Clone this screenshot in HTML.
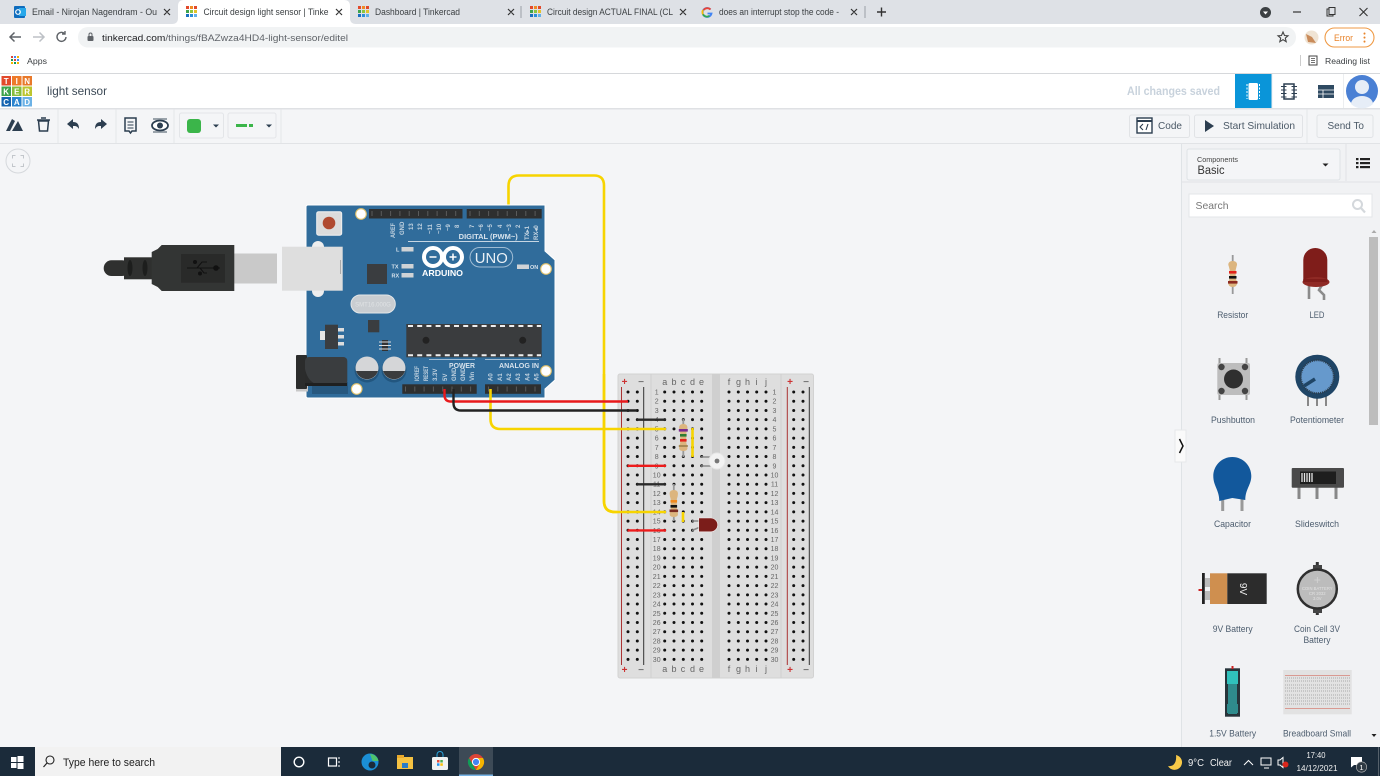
<!DOCTYPE html>
<html><head><meta charset="utf-8"><title>light sensor</title>
<style>
html,body{margin:0;padding:0;background:#f4f5f7;width:1380px;height:776px;overflow:hidden}
svg{display:block;filter:blur(.35px)}
text{font-family:"Liberation Sans",sans-serif}
.t{font-size:9px;fill:#3c4043}
.pin{font-size:6px;fill:#c3d3e0;font-weight:bold}
.n{font-size:7px;fill:#666;text-anchor:middle}
.c{font-size:9px;fill:#666;text-anchor:middle}
.lab{font-size:9.5px;fill:#4d5d6e;text-anchor:middle}
.x{stroke:#333;stroke-width:1.2;fill:none}
</style></head><body>
<svg width="1380" height="776" viewBox="0 0 1380 776" xmlns="http://www.w3.org/2000/svg">
<rect width="1380" height="776" fill="#f4f5f7"/>

<!-- Browser chrome -->
<rect width="1380" height="24" fill="#dee1e6"/>
<rect y="24" width="1380" height="49" fill="#fff"/>
<path d="M172 24q6 0 6-6V6q0-6 6-6h160q6 0 6 6v12q0 6 6 6z" fill="#fff"/>
<rect x="14" y="6" width="11" height="12" rx="1" fill="#0f6cbd"/><rect x="19" y="8" width="7" height="8" fill="#28a8ea"/><circle cx="18" cy="12" r="2.3" fill="none" stroke="#fff" stroke-width="1.2"/>
<g id="fav">
<rect x="186" y="6" width="3" height="3" fill="#e2492b"/><rect x="190" y="6" width="3" height="3" fill="#f08a24"/><rect x="194" y="6" width="3" height="3" fill="#e2492b"/>
<rect x="186" y="10" width="3" height="3" fill="#3fa34d"/><rect x="190" y="10" width="3" height="3" fill="#8cc63f"/><rect x="194" y="10" width="3" height="3" fill="#e3c22a"/>
<rect x="186" y="14" width="3" height="3" fill="#1b6fc2"/><rect x="190" y="14" width="3" height="3" fill="#2b8ed8"/><rect x="194" y="14" width="3" height="3" fill="#62b0e8"/>
</g>
<use href="#fav" x="172"/><use href="#fav" x="344"/>
<path d="M710.500 9.500a4.500 4.500 0 1 0 1 4h-4" fill="none" stroke="#4285f4" stroke-width="1.800"/><path d="M710.500 9.500a4.500 4.500 0 0 0-6.800.5" stroke="#ea4335" stroke-width="1.800" fill="none"/><path d="M703 10a4.500 4.500 0 0 0 0 4.300" stroke="#fbbc05" stroke-width="1.800" fill="none"/><path d="M703 14.300a4.500 4.500 0 0 0 6.500 1.500" stroke="#34a853" stroke-width="1.800" fill="none"/>
<text class="t" x="32" y="15" textLength="125" lengthAdjust="spacingAndGlyphs">Email - Nirojan Nagendram - Ou</text>
<text class="t" x="203.500" y="15" textLength="125" lengthAdjust="spacingAndGlyphs">Circuit design light sensor | Tinke</text>
<text class="t" x="375" y="15" textLength="85" lengthAdjust="spacingAndGlyphs">Dashboard | Tinkercad</text>
<text class="t" x="547" y="15" textLength="126" lengthAdjust="spacingAndGlyphs">Circuit design ACTUAL FINAL (CL</text>
<text class="t" x="719" y="15" textLength="120" lengthAdjust="spacingAndGlyphs">does an interrupt stop the code -</text>
<path class="x" d="M164 9l6 6m0-6l-6 6M336 9l6 6m0-6l-6 6M508 9l6 6m0-6l-6 6M680 9l6 6m0-6l-6 6M851 9l6 6m0-6l-6 6"/>
<path d="M521 6v12M865 6v12" stroke="#9aa0a6"/>
<path d="M877 12h9M881.500 7.500v9" stroke="#333" stroke-width="1.400"/>
<circle cx="1265.500" cy="12.500" r="5.500" fill="#3c4043"/><path d="M1263 11.500h5l-2.500 3z" fill="#fff"/>
<path d="M1293 12h8" stroke="#333" stroke-width="1.200"/><rect x="1327" y="9" width="6" height="7" fill="none" stroke="#333"/><rect x="1329" y="7.500" width="6" height="7" fill="#dee1e6" stroke="#333"/>
<path d="M1359.500 8l8 8m0-8l-8 8" stroke="#333" stroke-width="1.100"/>

<path d="M21 37H10M14.500 32.500L10 37l4.500 4.500" stroke="#5f6368" stroke-width="1.500" fill="none"/>
<path d="M33 37h11M39.500 32.500L44 37l-4.500 4.500" stroke="#bdc1c6" stroke-width="1.500" fill="none"/>
<path d="M66 37a4.500 4.500 0 1 1-1.500-3.500M65 31v3h-3" stroke="#5f6368" stroke-width="1.400" fill="none"/>
<rect x="78" y="27" width="1218" height="20.500" rx="10" fill="#f1f3f4"/>
<rect x="87.500" y="36" width="6" height="5" rx="1" fill="#5f6368"/><path d="M89 36v-1.500a1.500 1.500 0 0 1 3 0V36" fill="none" stroke="#5f6368"/>
<text x="102" y="41" font-size="9.500" fill="#5f6368" textLength="246" lengthAdjust="spacingAndGlyphs"><tspan fill="#202124">tinkercad.com</tspan>/things/fBAZwza4HD4-light-sensor/editel</text>
<path d="M1283 32l1.500 3.500 3.500.3-2.700 2.300.9 3.600-3.200-2-3.200 2 .9-3.600-2.700-2.300 3.500-.3z" fill="none" stroke="#444" stroke-width="1.100"/>
<circle cx="1311.500" cy="37.500" r="7" fill="#f0e4d4"/><path d="M1306 34l6 3 4 6-8-1z" fill="#c98b5a"/>
<rect x="1325" y="28" width="49" height="19" rx="9.500" fill="#fff" stroke="#ef9a45" stroke-width="1.100"/>
<text x="1334" y="41" font-size="9" fill="#e8832a" textLength="19" lengthAdjust="spacingAndGlyphs">Error</text>
<path d="M1364.500 33.500v.1M1364.500 37.500v.1M1364.500 41.500v.1" stroke="#e8832a" stroke-width="2" stroke-linecap="round"/>
<g fill="#db4437"><rect x="11" y="56" width="2" height="2"/><rect x="14" y="56" width="2" height="2" fill="#4285f4"/><rect x="17" y="56" width="2" height="2" fill="#f4b400"/><rect x="11" y="59" width="2" height="2" fill="#0f9d58"/><rect x="14" y="59" width="2" height="2" fill="#db4437"/><rect x="17" y="59" width="2" height="2" fill="#4285f4"/><rect x="11" y="62" width="2" height="2" fill="#f4b400"/><rect x="14" y="62" width="2" height="2" fill="#0f9d58"/><rect x="17" y="62" width="2" height="2" fill="#f4b400"/></g>
<text x="27" y="64" font-size="8.500" fill="#3c4043" textLength="20" lengthAdjust="spacingAndGlyphs">Apps</text>
<path d="M1300.500 55v11" stroke="#ccc"/>
<rect x="1309" y="56" width="8" height="9" fill="none" stroke="#444" stroke-width="1"/><path d="M1311 58.500h4M1311 60.500h4M1311 62.500h4" stroke="#444" stroke-width=".7"/>
<text x="1325" y="64" font-size="8.500" fill="#3c4043" textLength="45" lengthAdjust="spacingAndGlyphs">Reading list</text>
<rect y="73" width="1380" height="1" fill="#d6d8db"/>

<!-- Tinkercad header -->
<rect y="74" width="1380" height="34" fill="#fff"/>
<rect y="108" width="1380" height="1.500" fill="#dfe1e4"/>
<g>
<rect x="1.500" y="76" width="9.500" height="9.500" fill="#e2492b"/><rect x="12" y="76" width="9.500" height="9.500" fill="#ee7a2a"/><rect x="22.500" y="76" width="9.500" height="9.500" fill="#e8792a"/>
<rect x="1.500" y="86.500" width="9.500" height="9.500" fill="#3fa34d"/><rect x="12" y="86.500" width="9.500" height="9.500" fill="#86bd3c"/><rect x="22.500" y="86.500" width="9.500" height="9.500" fill="#bcc52f"/>
<rect x="1.500" y="97" width="9.500" height="9.500" fill="#1664b0"/><rect x="12" y="97" width="9.500" height="9.500" fill="#2b84cf"/><rect x="22.500" y="97" width="9.500" height="9.500" fill="#6cb2e6"/>
<g font-size="8" font-weight="bold" fill="#fff" text-anchor="middle"><text x="6.200" y="84">T</text><text x="16.800" y="84">I</text><text x="27.200" y="84">N</text><text x="6.200" y="94.500">K</text><text x="16.800" y="94.500">E</text><text x="27.200" y="94.500">R</text><text x="6.200" y="105">C</text><text x="16.800" y="105">A</text><text x="27.200" y="105">D</text></g>
</g>
<text x="47" y="95" font-size="12" fill="#3d4a57" textLength="60" lengthAdjust="spacingAndGlyphs">light sensor</text>
<text x="1127" y="95" font-size="12" font-weight="bold" fill="#c8d2dc" textLength="93" lengthAdjust="spacingAndGlyphs">All changes saved</text>
<rect x="1235" y="74" width="36.500" height="34" fill="#0a95d9"/>
<rect x="1248.500" y="83" width="9.500" height="17" rx="1.500" fill="#fff"/><path d="M1247 84v15M1259.500 84v15" stroke="#fff" stroke-width="1" stroke-dasharray="2 1.500"/>
<rect x="1284" y="84" width="10" height="15" fill="#fff" stroke="#2c3e50" stroke-width="1.500"/><path d="M1281 86.500h16M1281 90h16M1281 93.500h16M1281 97h16" stroke="#2c3e50" stroke-width="1"/><rect x="1286.500" y="85" width="5" height="13" fill="#fff"/>
<rect x="1318" y="85" width="16" height="13" fill="#2f4a62"/><path d="M1318 90h16M1318 94h16M1323 90v8" stroke="#fff" stroke-width=".8"/>
<path d="M1343.500 74v34M1272 74v34" stroke="#eceef0"/>
<circle cx="1362" cy="91" r="16" fill="#4a80d4"/>
<circle cx="1362" cy="87" r="7" fill="#e6edf7"/><path d="M1351 104a11 8 0 0 1 22 0a16 16 0 0 1-22 0z" fill="#e6edf7"/>

<!-- Toolbar -->
<rect y="143" width="1181" height="1" fill="#e1e3e6"/><rect x="1181" y="143" width="199" height="1" fill="#e1e3e6"/>
<path d="M58 109v34M116 109v34M174 109v34M281 109v34M1307 109v34" stroke="#e4e6e9"/>
<path d="M6 131l6-12 3 2-5 10zM12 131l6-10 5 10z" fill="#2c3e50"/>
<path d="M38.500 121h10l-1 10h-8zM37 120h13M41 118h5" fill="none" stroke="#2c3e50" stroke-width="1.500"/>
<path d="M67 124l6-5v3c4 0 6 2 6 7-2-3-3-3-6-3v3z" fill="#2c3e50"/>
<path d="M107 124l-6-5v3c-4 0-6 2-6 7 2-3 3-3 6-3v3z" fill="#2c3e50"/>
<path d="M125 118h11v13h-4l-1.500 2-1.500-2h-4z" fill="none" stroke="#2c3e50" stroke-width="1.500"/><path d="M127.500 122h6M127.500 125h6M127.500 128h6" stroke="#2c3e50"/>
<path d="M153 119h14M153 132h14" stroke="#9aa3ab" stroke-width="2"/><ellipse cx="160" cy="125.500" rx="8" ry="5" fill="#fff" stroke="#2c3e50" stroke-width="1.800"/><circle cx="160" cy="125.500" r="3" fill="#2c3e50"/>
<rect x="179.500" y="113" width="44" height="25" rx="2" fill="#f4f5f7" stroke="#e3e5e8"/>
<rect x="187" y="119" width="14" height="14" rx="3" fill="#3bb54a"/><path d="M213 124.500h6l-3 3z" fill="#2c3e50"/>
<rect x="228" y="113" width="48" height="25" rx="2" fill="#f4f5f7" stroke="#e3e5e8"/>
<rect x="236" y="124" width="11" height="3" fill="#3bb54a"/><rect x="249" y="124" width="4" height="3" fill="#3bb54a"/><path d="M266 124.500h6l-3 3z" fill="#2c3e50"/>
<rect x="1129.500" y="115" width="60" height="22.500" rx="2" fill="#f4f5f7" stroke="#e1e3e6"/>
<rect x="1137" y="118" width="15" height="15" fill="#fff" stroke="#2c3e50" stroke-width="1.400"/><path d="M1137 121h15" stroke="#2c3e50" stroke-width="2"/><path d="M1143 124l-3 3 3 3M1148 124l-2 6" fill="none" stroke="#2c3e50" stroke-width="1.100"/>
<text x="1158" y="129" font-size="10.500" fill="#4a5866" textLength="24" lengthAdjust="spacingAndGlyphs">Code</text>
<rect x="1194.500" y="115" width="108" height="22.500" rx="2" fill="#f4f5f7" stroke="#e1e3e6"/>
<path d="M1205 120l9 6-9 6z" fill="#2c3e50"/>
<text x="1223" y="129" font-size="10.500" fill="#4a5866" textLength="72" lengthAdjust="spacingAndGlyphs">Start Simulation</text>
<rect x="1317" y="115" width="56" height="22.500" rx="2" fill="#f4f5f7" stroke="#e1e3e6"/>
<text x="1327.500" y="129" font-size="10.500" fill="#4a5866" textLength="36.500" lengthAdjust="spacingAndGlyphs">Send To</text>
<circle cx="18" cy="161" r="12" fill="#f4f5f7" stroke="#d5d8dc"/>
<path d="M12.500 158.500v-3h3M20.500 155.500h3v3M23.500 163.500v3h-3M15.500 166.500h-3v-3" fill="none" stroke="#c2c6cb"/>

<!-- Wires behind the board -->
<path d="M508.500 215V186q0-10.500 10.500-10.500h75q10 0 10 10V501q0 11 11 11h50" fill="none" stroke="#f7d400" stroke-width="2.600"/>

<!-- USB plug -->
<rect x="234" y="253.500" width="43" height="30" fill="#c9c9c9"/>
<rect x="103.700" y="260.300" width="26" height="15.700" rx="7.800" fill="#2f302f"/>
<rect x="124" y="257.300" width="30" height="22" fill="#2f302f"/>
<ellipse cx="130" cy="268" rx="2.500" ry="8" fill="#1d1e1d"/><ellipse cx="145" cy="268" rx="2.500" ry="8" fill="#1d1e1d"/>
<path d="M151.700 252l6-3 4-4h72.600v46h-72.600l-4-4-6-3z" fill="#333534"/>
<rect x="181" y="254" width="44" height="28.700" fill="#292a29"/>
<path d="M187 268h33M197 268l5-6h5M200 268l4 5h3" fill="none" stroke="#111" stroke-width="1.100"/><circle cx="216" cy="268" r="2.800" fill="#111"/><circle cx="195" cy="262" r="2" fill="#111"/><circle cx="200" cy="273.500" r="2" fill="#111"/>

<!-- Arduino -->
<path d="M306 207q0-2 2-2h237v46l10 9v120l-10 9v9h-237q-2 0-2-2z" fill="#306c9b" stroke="#fff" stroke-width="1"/>
<rect x="369" y="209" width="93.500" height="9.500" fill="#2e2f2f"/>
<rect x="466.700" y="209" width="75" height="9.500" fill="#2e2f2f"/>
<rect x="402.300" y="384.300" width="74.400" height="9.500" fill="#2e2f2f"/>
<rect x="485" y="384.300" width="56" height="9.500" fill="#2e2f2f"/>
<g stroke="#5a5b5b" stroke-width="5" fill="none" stroke-dasharray="1 8.300"><path d="M371.500 213.500h90M469.500 213.500h72M405 389h72M488 389h53"/></g>
<g fill="#fff" stroke="#e2c26a" stroke-width="1.100"><circle cx="361" cy="214" r="5.300"/><circle cx="546" cy="269" r="5.300"/><circle cx="356.700" cy="389" r="5.300"/><circle cx="546" cy="371" r="5.300"/></g>
<rect x="316.700" y="211.700" width="25" height="23.500" rx="2" fill="#dcdcdc" stroke="#f1f1f1"/><circle cx="329" cy="223" r="6.300" fill="#b04a30"/>
<circle cx="318" cy="247" r="6" fill="#eee"/><circle cx="318" cy="291" r="6" fill="#eee"/>
<rect x="282" y="246.700" width="60.700" height="44" fill="#dedede"/><rect x="340" y="260" width="1" height="14" fill="#aaa"/>
<g>
<text transform="translate(395,238) rotate(-90)" class="pin" textLength="15" lengthAdjust="spacingAndGlyphs">AREF</text>
<text transform="translate(404,235) rotate(-90)" class="pin">GND</text>
<text transform="translate(413,230) rotate(-90)" class="pin">13</text>
<text transform="translate(422,230) rotate(-90)" class="pin">12</text>
<text transform="translate(432,234) rotate(-90)" class="pin">~11</text>
<text transform="translate(441,234) rotate(-90)" class="pin">~10</text>
<text transform="translate(450,231) rotate(-90)" class="pin">~9</text>
<text transform="translate(459,228) rotate(-90)" class="pin">8</text>
<text transform="translate(474,228) rotate(-90)" class="pin">7</text>
<text transform="translate(483,231) rotate(-90)" class="pin">~6</text>
<text transform="translate(492,231) rotate(-90)" class="pin">~5</text>
<text transform="translate(502,228) rotate(-90)" class="pin">4</text>
<text transform="translate(511,231) rotate(-90)" class="pin">~3</text>
<text transform="translate(520,228) rotate(-90)" class="pin">2</text>
<text transform="translate(529,240) rotate(-90)" class="pin">TX▸1</text>
<text transform="translate(538,240) rotate(-90)" class="pin">RX◂0</text>
<text transform="translate(419,381) rotate(-90)" class="pin" textLength="15" lengthAdjust="spacingAndGlyphs">IOREF</text>
<text transform="translate(428,381) rotate(-90)" class="pin" textLength="15" lengthAdjust="spacingAndGlyphs">RESET</text>
<text transform="translate(437,381) rotate(-90)" class="pin">3.3V</text>
<text transform="translate(447,381) rotate(-90)" class="pin">5V</text>
<text transform="translate(456,381) rotate(-90)" class="pin">GND</text>
<text transform="translate(465,381) rotate(-90)" class="pin">GND</text>
<text transform="translate(474,381) rotate(-90)" class="pin">Vin</text>
<text transform="translate(492.500,381) rotate(-90)" class="pin">A0</text>
<text transform="translate(502,381) rotate(-90)" class="pin">A1</text>
<text transform="translate(511,381) rotate(-90)" class="pin">A2</text>
<text transform="translate(520,381) rotate(-90)" class="pin">A3</text>
<text transform="translate(529.500,381) rotate(-90)" class="pin">A4</text>
<text transform="translate(538.500,381) rotate(-90)" class="pin">A5</text>
</g>
<text x="458.700" y="239" font-size="7" font-weight="bold" fill="#d6e2ec" textLength="59" lengthAdjust="spacingAndGlyphs">DIGITAL (PWM~)</text>
<path d="M408 241.500h131" stroke="#c6d6e3"/>
<circle cx="433" cy="257" r="9" fill="none" stroke="#fff" stroke-width="4"/><circle cx="453" cy="257" r="9" fill="none" stroke="#fff" stroke-width="4"/>
<path d="M429.500 257h7M449.500 257h7M453 253.500v7" stroke="#fff" stroke-width="1.500"/>
<text x="422" y="276" font-size="8.500" font-weight="bold" fill="#fff" textLength="41" lengthAdjust="spacingAndGlyphs">ARDUINO</text>
<rect x="470" y="247.500" width="42.700" height="19.500" rx="9.700" fill="none" stroke="#9fbcd4"/>
<text x="491.300" y="263" font-size="15" fill="#e9f0f6" text-anchor="middle" textLength="33" lengthAdjust="spacingAndGlyphs">UNO</text>
<g fill="#cfd3d6"><rect x="401.500" y="247" width="12" height="4.500"/><rect x="401.500" y="264" width="12" height="4.500"/><rect x="401.500" y="273" width="12" height="4.500"/><rect x="517" y="264.500" width="12" height="4.500"/></g>
<g font-size="5.500" fill="#d6e2ec" font-weight="bold"><text x="396" y="251.500">L</text><text x="391.500" y="268.500">TX</text><text x="391.500" y="277.500">RX</text><text x="530" y="269">ON</text></g>
<rect x="367" y="264" width="20" height="20" fill="#3a3d40"/>
<rect x="351" y="295" width="44.300" height="18" rx="9" fill="#c9cdd1" stroke="#e3e6e8"/>
<text x="373" y="306.500" font-size="6" fill="#dfe2e4" text-anchor="middle">SMT16.000G</text>
<rect x="368" y="320" width="11.300" height="12.300" fill="#3a3d40"/>
<rect x="320" y="331" width="6" height="9" fill="#e6e6e6"/><rect x="325" y="324.700" width="13" height="24.300" fill="#3a3d40"/>
<g fill="#ddd"><rect x="338" y="328" width="6" height="3.500"/><rect x="338" y="335" width="6" height="3.500"/><rect x="338" y="342" width="6" height="3.500"/></g>
<rect x="382" y="340" width="6" height="11" fill="#333"/><path d="M379 342h12M379 345.500h12M379 349h12" stroke="#ddd"/>
<rect x="406.300" y="324" width="135.400" height="33.300" fill="#3a3c3e"/>
<path d="M408 326h133M408 355.300h133" stroke="#eee" stroke-width="2" stroke-dasharray="5 4.200"/>
<circle cx="426" cy="340.300" r="3.500" fill="#222"/><circle cx="522.700" cy="340.300" r="3.500" fill="#222"/>
<g><circle cx="367" cy="370" r="12.500" fill="#22567f"/><circle cx="367" cy="368" r="11.500" fill="#d5d6d8"/><path d="M356 371h22a11.500 11.500 0 0 1-22 0z" fill="#3a3c3e"/>
<circle cx="394" cy="370" r="12.500" fill="#22567f"/><circle cx="394" cy="368" r="11.500" fill="#d5d6d8"/><path d="M383 371h22a11.500 11.500 0 0 1-22 0z" fill="#3a3c3e"/></g>
<rect x="312" y="382" width="36" height="12" fill="#27587f"/>
<rect x="296" y="381" width="12" height="10.500" fill="#c8c8c8"/>
<rect x="296" y="355" width="11" height="34" rx="1" fill="#2b2c2c"/>
<rect x="305" y="357" width="42.300" height="28" rx="4" fill="#3a3d3f"/><path d="M305 369q3 14 14 16h-14z" fill="#2a2b2b"/><rect x="305" y="383" width="42" height="3" fill="#1f2020"/>
<path d="M429 359.500h46M485 359.500h54" stroke="#9fbcd4"/>
<text x="449" y="368" font-size="7" font-weight="bold" fill="#d6e2ec" textLength="26" lengthAdjust="spacingAndGlyphs">POWER</text>
<text x="499" y="368" font-size="7" font-weight="bold" fill="#d6e2ec" textLength="40" lengthAdjust="spacingAndGlyphs">ANALOG IN</text>

<!-- Breadboard -->
<rect x="618" y="374" width="195.500" height="304" rx="2" fill="#dedede" stroke="#d2d2d2"/>
<rect x="712" y="374" width="8" height="304" fill="#cfcfcf"/>
<path d="M651 374v304M781 374v304" stroke="#d0d0d0"/>
<path d="M621.500 387v278M787.300 387v278" stroke="#a33" stroke-width="1"/>
<path d="M643.700 387v278M809.300 387v278" stroke="#333" stroke-width="1"/>
<g stroke="#111" stroke-width="3" stroke-linecap="round" stroke-dasharray="0 9.220" fill="none">
<path d="M628 392V660M637.300 392V660M664.700 392V660M674 392V660M683.300 392V660M692.500 392V660M701.700 392V660M729 392V660M738.300 392V660M747.500 392V660M756.700 392V660M766 392V660M793.700 392V660M803 392V660"/>
</g>
<g>
<text class="c" x="664.700" y="385">a</text><text class="c" x="674" y="385">b</text><text class="c" x="683" y="385">c</text><text class="c" x="692.500" y="385">d</text><text class="c" x="701.500" y="385">e</text>
<text class="c" x="729" y="385">f</text><text class="c" x="738.500" y="385">g</text><text class="c" x="747.500" y="385">h</text><text class="c" x="756.500" y="385">i</text><text class="c" x="766" y="385">j</text>
<text class="c" x="664.700" y="672">a</text><text class="c" x="674" y="672">b</text><text class="c" x="683" y="672">c</text><text class="c" x="692.500" y="672">d</text><text class="c" x="701.500" y="672">e</text>
<text class="c" x="729" y="672">f</text><text class="c" x="738.500" y="672">g</text><text class="c" x="747.500" y="672">h</text><text class="c" x="756.500" y="672">i</text><text class="c" x="766" y="672">j</text>
</g>
<g font-size="10" font-weight="bold" text-anchor="middle"><text x="624.500" y="385" fill="#c33">+</text><text x="641" y="385" fill="#777">−</text><text x="790" y="385" fill="#c33">+</text><text x="806" y="385" fill="#777">−</text><text x="624.500" y="673" fill="#c33">+</text><text x="641" y="673" fill="#777">−</text><text x="790" y="673" fill="#c33">+</text><text x="806" y="673" fill="#777">−</text></g>
<g>
<text class="n" x="656.700" y="394.500">1</text><text class="n" x="656.700" y="403.700">2</text><text class="n" x="656.700" y="412.900">3</text><text class="n" x="656.700" y="422.200">4</text><text class="n" x="656.700" y="431.400">5</text><text class="n" x="656.700" y="440.600">6</text><text class="n" x="656.700" y="449.800">7</text><text class="n" x="656.700" y="459">8</text><text class="n" x="656.700" y="468.300">9</text><text class="n" x="656.700" y="477.500">10</text><text class="n" x="656.700" y="486.700">11</text><text class="n" x="656.700" y="495.900">12</text><text class="n" x="656.700" y="505.100">13</text><text class="n" x="656.700" y="514.400">14</text><text class="n" x="656.700" y="523.600">15</text><text class="n" x="656.700" y="532.800">16</text><text class="n" x="656.700" y="542">17</text><text class="n" x="656.700" y="551.200">18</text><text class="n" x="656.700" y="560.500">19</text><text class="n" x="656.700" y="569.700">20</text><text class="n" x="656.700" y="578.900">21</text><text class="n" x="656.700" y="588.100">22</text><text class="n" x="656.700" y="597.300">23</text><text class="n" x="656.700" y="606.600">24</text><text class="n" x="656.700" y="615.800">25</text><text class="n" x="656.700" y="625">26</text><text class="n" x="656.700" y="634.200">27</text><text class="n" x="656.700" y="643.400">28</text><text class="n" x="656.700" y="652.700">29</text><text class="n" x="656.700" y="661.900">30</text>
<text class="n" x="774.500" y="394.500">1</text><text class="n" x="774.500" y="403.700">2</text><text class="n" x="774.500" y="412.900">3</text><text class="n" x="774.500" y="422.200">4</text><text class="n" x="774.500" y="431.400">5</text><text class="n" x="774.500" y="440.600">6</text><text class="n" x="774.500" y="449.800">7</text><text class="n" x="774.500" y="459">8</text><text class="n" x="774.500" y="468.300">9</text><text class="n" x="774.500" y="477.500">10</text><text class="n" x="774.500" y="486.700">11</text><text class="n" x="774.500" y="495.900">12</text><text class="n" x="774.500" y="505.100">13</text><text class="n" x="774.500" y="514.400">14</text><text class="n" x="774.500" y="523.600">15</text><text class="n" x="774.500" y="532.800">16</text><text class="n" x="774.500" y="542">17</text><text class="n" x="774.500" y="551.200">18</text><text class="n" x="774.500" y="560.500">19</text><text class="n" x="774.500" y="569.700">20</text><text class="n" x="774.500" y="578.900">21</text><text class="n" x="774.500" y="588.100">22</text><text class="n" x="774.500" y="597.300">23</text><text class="n" x="774.500" y="606.600">24</text><text class="n" x="774.500" y="615.800">25</text><text class="n" x="774.500" y="625">26</text><text class="n" x="774.500" y="634.200">27</text><text class="n" x="774.500" y="643.400">28</text><text class="n" x="774.500" y="652.700">29</text><text class="n" x="774.500" y="661.900">30</text>
</g>

<!-- Wires on top of board -->
<path d="M604 374V501q0 11 11 11h51" fill="none" stroke="#f7d400" stroke-width="2.600"/>
<path d="M490.500 389V419q0 10 10 10H666" fill="none" stroke="#f7d400" stroke-width="2.600"/>
<path d="M444.500 389v6q0 6.500 6.500 6.500H628" fill="none" stroke="#e8191c" stroke-width="2.400"/>
<path d="M453.500 389v14q0 7.500 7.500 7.500H637" fill="none" stroke="#222" stroke-width="2.400"/>
<path d="M636.700 419.700H666M636.700 484.300H666" stroke="#2a2a2a" stroke-width="2.400"/>
<path d="M627.500 465.800H666M627.500 530.400H666" stroke="#ee1b1b" stroke-width="2.400"/>
<path d="M692.500 428v29M683 512v10" stroke="#f7d400" stroke-width="2.600"/>

<!-- Resistors -->
<path d="M683.300 419v38" stroke="#999" stroke-width="1.800"/>
<path d="M683.300 425c4 0 4.500 3 4 5 0 2-1 3-1 5v8c0 2 1 3 1 5 .5 2 0 4-4 4s-4.500-2-4-4c0-2 1-3 1-5v-8c0-2-1-3-1-5-.5-2 0-5 4-5z" fill="#dcb57e" transform="translate(0 -1)"/>
<rect x="678.800" y="429" width="9" height="2.600" fill="#7b2a90"/><rect x="680" y="434" width="6.600" height="2.600" fill="#2e7d32"/><rect x="680" y="439" width="6.600" height="2.600" fill="#e2231a"/><rect x="678.800" y="445" width="9" height="2" fill="#a88a55"/>
<path d="M673.800 484v37" stroke="#999" stroke-width="1.800"/>
<path d="M673.800 490c4 0 4.500 3 4 5 0 2-1 3-1 5v8c0 2 1 3 1 5 .5 2 0 4-4 4s-4.500-2-4-4c0-2 1-3 1-5v-8c0-2-1-3-1-5-.5-2 0-5 4-5z" fill="#dcb57e"/>
<rect x="670.500" y="500" width="6.600" height="2.600" fill="#f08a1d"/><rect x="670.500" y="505" width="6.600" height="2.600" fill="#111"/><rect x="669.500" y="509.500" width="8.600" height="2.600" fill="#7a2a20"/>

<!-- Photoresistor -->
<path d="M701 457h13M701 466h13" stroke="#888" stroke-width="1.500"/>
<circle cx="717" cy="461" r="8" fill="#f2f2f2" stroke="#e6e6e6"/><circle cx="717" cy="461" r="2.400" fill="#777"/>
<!-- LED -->
<path d="M692 521h8M692 530.500l7-3" stroke="#888" stroke-width="1.500"/>
<path d="M698.700 518h12a7 6.900 0 0 1 0 13.800h-12z" fill="#7b1d1a" stroke="#f6eeee" stroke-width=".6"/>

<!-- Right panel -->
<rect x="1181" y="144" width="199" height="603" fill="#f1f2f4"/>
<path d="M1181.500 144v603" stroke="#dfe3e6"/>
<path d="M1346 144v37M1181 182h199" stroke="#e1e3e6"/>
<rect x="1187" y="149" width="153" height="31" rx="2" fill="#f4f5f7" stroke="#dee2e6"/>
<text x="1197" y="162" font-size="7.500" fill="#444" textLength="41" lengthAdjust="spacingAndGlyphs">Components</text>
<text x="1197.500" y="174" font-size="11.500" fill="#333" textLength="27" lengthAdjust="spacingAndGlyphs">Basic</text>
<path d="M1322.500 163.500h6l-3 3z" fill="#222"/>
<g fill="#222"><rect x="1356" y="158" width="2.500" height="2.200"/><rect x="1360" y="158" width="10" height="2.200"/><rect x="1356" y="162" width="2.500" height="2.200"/><rect x="1360" y="162" width="10" height="2.200"/><rect x="1356" y="166" width="2.500" height="2.200"/><rect x="1360" y="166" width="10" height="2.200"/></g>
<rect x="1189" y="194" width="183" height="23" fill="#fff" stroke="#e3e6e9"/>
<text x="1195.500" y="209" font-size="10.500" fill="#777" textLength="33" lengthAdjust="spacingAndGlyphs">Search</text>
<circle cx="1357.500" cy="204.500" r="4.500" fill="none" stroke="#d4d8dc" stroke-width="2"/><path d="M1361 208l4 4.500" stroke="#d4d8dc" stroke-width="2.200"/>
<rect x="1369" y="237" width="9" height="188" fill="#bdbdbd"/>
<path d="M1371.500 233h5l-2.500-3z" fill="#aaa"/><path d="M1371.500 734h5l-2.500 3z" fill="#222"/>
<path d="M1175 430h11v32h-11z" fill="#fafafa" stroke="#e6e8ea"/>
<path d="M1179.500 439l3.500 7-3.500 7" fill="none" stroke="#111" stroke-width="1.500"/>

<!-- Palette -->
<path d="M1232.700 255v39" stroke="#999" stroke-width="1.800"/>
<path d="M1232.700 261c4 0 5 3 4 5l-1 4v8l1 3c1 3 0 6-4 6s-5-3-4-6l1-3v-8l-1-4c-1-2 0-5 4-5z" fill="#dcb57e"/>
<rect x="1229" y="271" width="7.500" height="2.600" fill="#e2231a"/><rect x="1229" y="276" width="7.500" height="2.600" fill="#111"/><rect x="1228" y="281" width="9.500" height="2.600" fill="#8c2a20"/>
<text class="lab" x="1232.700" y="318" textLength="31" lengthAdjust="spacingAndGlyphs">Resistor</text>
<path d="M1309 285v14M1322 285l-3 5 5 5v5" fill="none" stroke="#8b8b8b" stroke-width="2.600"/>
<path d="M1303.300 282v-22a12 12 0 0 1 24 0v22z" fill="#7f1d1a"/><ellipse cx="1316" cy="282" rx="13.500" ry="5" fill="#8f2a25"/><path d="M1303.300 279h24v3h-24z" fill="#7f1d1a"/>
<text class="lab" x="1317" y="318" textLength="15" lengthAdjust="spacingAndGlyphs">LED</text>

<path d="M1219.500 358v8M1246.500 358v8M1219.500 392v8M1246.500 392v8" stroke="#999" stroke-width="2"/>
<rect x="1217.300" y="363" width="32.700" height="32" rx="2" fill="#bdbdbd"/>
<circle cx="1221.500" cy="367" r="3.200" fill="#444"/><circle cx="1245" cy="367" r="3.200" fill="#444"/><circle cx="1221.500" cy="391" r="3.200" fill="#444"/><circle cx="1245" cy="391" r="3.200" fill="#444"/>
<circle cx="1233.500" cy="379" r="9.500" fill="#2f2f2f"/>
<text class="lab" x="1233" y="423" textLength="44" lengthAdjust="spacingAndGlyphs">Pushbutton</text>
<path d="M1308 395v11M1317 395v11M1326 395v11" stroke="#888" stroke-width="2"/>
<circle cx="1317.300" cy="376.700" r="22" fill="#1f4566"/><circle cx="1317.300" cy="376.700" r="16.500" fill="#6699cc" stroke="#2b3a48" stroke-width="2" stroke-dasharray="1 1"/>
<path d="M1304 386l11-7" stroke="#1f4566" stroke-width="3.500"/>
<text class="lab" x="1317" y="423" textLength="54" lengthAdjust="spacingAndGlyphs">Potentiometer</text>

<path d="M1222.700 498v13M1242 498v13" stroke="#999" stroke-width="3"/>
<path d="M1232.300 457c11 0 19 9 19 19 0 9-6 13-6 24l-13-2-13 3c0-11-6-15-6-25 0-10 8-19 19-19z" fill="#12589c"/>
<text class="lab" x="1232.500" y="527" textLength="37" lengthAdjust="spacingAndGlyphs">Capacitor</text>
<path d="M1299 487v12M1317 487v12M1336 487v12" stroke="#888" stroke-width="3"/>
<rect x="1291.700" y="468" width="52.300" height="19.700" rx="1" fill="#4a4a4a"/>
<rect x="1300" y="471.500" width="36" height="12.500" fill="#1e1e1e"/>
<path d="M1302 473v9M1304.500 473v9M1307 473v9M1309.500 473v9M1312 473v9" stroke="#e5e5e5" stroke-width="1.300"/>
<text class="lab" x="1317" y="527" textLength="44" lengthAdjust="spacingAndGlyphs">Slideswitch</text>

<rect x="1202" y="573" width="2.800" height="31" fill="#222"/><rect x="1205" y="578" width="5" height="9" fill="#bbb"/><rect x="1205" y="591" width="5" height="9" fill="#bbb"/><rect x="1198.500" y="589" width="3.500" height="2" fill="#c22"/>
<rect x="1210" y="573.300" width="17.300" height="30.700" fill="#cf8f4f"/><rect x="1227.300" y="573.300" width="39.400" height="30.700" fill="#2c2c2c"/>
<text transform="translate(1240,589) rotate(90)" font-size="10" fill="#eee" text-anchor="middle">9V</text>
<text class="lab" x="1232.700" y="632" textLength="40" lengthAdjust="spacingAndGlyphs">9V Battery</text>
<path d="M1317.300 562v6M1317.300 610v5" stroke="#333" stroke-width="3"/><rect x="1313" y="565" width="9" height="5" fill="#444"/><rect x="1313" y="608" width="9" height="5" fill="#444"/>
<circle cx="1317.300" cy="589" r="20.500" fill="#fff"/><circle cx="1317.300" cy="589" r="19.500" fill="#bcbcbc" stroke="#2f2f2f" stroke-width="2.500"/>
<g font-size="4.200" fill="#e2e2e2" text-anchor="middle"><text x="1317.300" y="590">COIN BATTERY</text><text x="1317.300" y="595">CR 2032</text><text x="1317.300" y="600">3.0V</text></g>
<path d="M1317.300 577v6M1314.300 580h6" stroke="#d5d5d5" stroke-width=".8"/>
<text class="lab" x="1317" y="632" textLength="46" lengthAdjust="spacingAndGlyphs">Coin Cell 3V</text><text class="lab" x="1317" y="643" textLength="27" lengthAdjust="spacingAndGlyphs">Battery</text>

<rect x="1225" y="668.300" width="15" height="48.400" fill="#27343a"/><rect x="1231.500" y="666" width="2" height="3" fill="#c22"/>
<rect x="1227" y="671" width="11" height="13" fill="#30c1bb"/><rect x="1228" y="684" width="9" height="30" fill="#2f8b8c"/><rect x="1227" y="704" width="11" height="9" fill="#2f8b8c"/>
<text class="lab" x="1232.700" y="736.500" textLength="47" lengthAdjust="spacingAndGlyphs">1.5V Battery</text>
<rect x="1283.300" y="670" width="68.400" height="44.300" fill="#e2e2e2"/>
<path d="M1285 675.500h65M1285 708.500h65" stroke="#d99a92" stroke-width="1"/>
<path d="M1285 678h65M1285 681h65M1285 685h65M1285 688h65M1285 691h65M1285 695h65M1285 698h65M1285 701h65M1285 704h65" stroke="#aaa" stroke-width="1" stroke-dasharray="1 1"/>
<text class="lab" x="1317" y="736.500" textLength="68" lengthAdjust="spacingAndGlyphs">Breadboard Small</text>

<!-- Taskbar -->
<rect y="747" width="1380" height="29" fill="#1b2b3a"/>
<g fill="#fff"><rect x="11" y="757" width="5.500" height="5"/><rect x="17.500" y="756" width="6" height="6"/><rect x="11" y="763" width="5.500" height="5"/><rect x="17.500" y="763" width="6" height="6"/></g>
<rect x="35" y="747" width="246" height="29" fill="#f2f2f2"/>
<circle cx="50" cy="760" r="4" fill="none" stroke="#222" stroke-width="1.100"/><path d="M47 763l-3.500 4" stroke="#222" stroke-width="1.200"/>
<text x="63" y="766" font-size="11" fill="#222" textLength="92" lengthAdjust="spacingAndGlyphs">Type here to search</text>
<circle cx="299" cy="762" r="4.800" fill="none" stroke="#fff" stroke-width="1.400"/>
<rect x="328.500" y="758" width="8" height="8" fill="none" stroke="#fff" stroke-width="1.200"/><path d="M339 757v2M339 761v2M339 765v2" stroke="#fff"/>
<circle cx="370" cy="762" r="8.500" fill="#1b8fd6"/><path d="M370 754a8.500 8.500 0 0 1 8.500 7h-6z" fill="#4fc36c"/><circle cx="372" cy="765" r="3.500" fill="#1b2b3a"/>
<rect x="397" y="757" width="16" height="12" fill="#f5c242"/><rect x="397" y="755" width="7" height="3" fill="#e8a92c"/><rect x="402" y="763" width="6" height="5" fill="#2a7bc8"/>
<rect x="432" y="757" width="16" height="13" rx="1.500" fill="#f2f2f2"/><path d="M437 757v-2.500a3 3 0 0 1 6 0V757" fill="none" stroke="#2aa7e0"/><rect x="437" y="760" width="2.500" height="2.500" fill="#e74c3c"/><rect x="440.300" y="760" width="2.500" height="2.500" fill="#4caf50"/><rect x="437" y="763.300" width="2.500" height="2.500" fill="#2196f3"/><rect x="440.300" y="763.300" width="2.500" height="2.500" fill="#ffc107"/>
<rect x="459" y="747" width="34" height="29" fill="#3d4a56"/><rect x="459" y="774.500" width="34" height="1.500" fill="#78b4e6"/>
<circle cx="476" cy="762" r="8" fill="#db4437"/><path d="M476 770a8 8 0 0 1-7-12l4 7z" fill="#0f9d58"/><path d="M476 770a8 8 0 0 0 7-12h-7l3 7z" fill="#f4b400"/><circle cx="476" cy="762" r="3.600" fill="#4285f4" stroke="#fff"/>

<path d="M1176 755a7.500 7.500 0 1 1-8 11c5 1 9-3 8-11z" fill="#f7c948"/>
<text x="1188" y="766" font-size="10" fill="#f0f0f0" textLength="16" lengthAdjust="spacingAndGlyphs">9°C</text>
<text x="1210" y="766" font-size="10" fill="#f0f0f0" textLength="22" lengthAdjust="spacingAndGlyphs">Clear</text>
<path d="M1244 765l4.500-4.500 4.500 4.500" fill="none" stroke="#fff"/>
<rect x="1261" y="758" width="10" height="7" fill="none" stroke="#fff"/><path d="M1264 768h5" stroke="#fff"/>
<path d="M1278 760h2l3-2.500v10l-3-2.500h-2z" fill="none" stroke="#fff"/><circle cx="1285.500" cy="764.500" r="3" fill="#d9261c"/>
<text x="1316" y="758" font-size="8.500" fill="#f0f0f0" text-anchor="middle" textLength="19" lengthAdjust="spacingAndGlyphs">17:40</text>
<text x="1317" y="771" font-size="8.500" fill="#f0f0f0" text-anchor="middle" textLength="41" lengthAdjust="spacingAndGlyphs">14/12/2021</text>
<path d="M1351 757h11v8h-8l-3 2.500z" fill="#fff"/>
<circle cx="1361.500" cy="767" r="5.200" fill="#2f3a44" stroke="#bbb" stroke-width=".6"/>
<text x="1361.500" y="770" font-size="7.500" fill="#fff" text-anchor="middle">1</text>
<path d="M1378.500 747v29" stroke="#55606a"/>
</svg>
</body></html>
